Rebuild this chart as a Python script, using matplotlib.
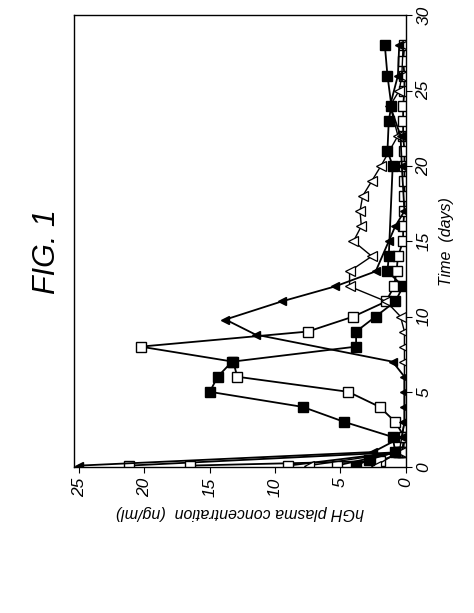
import matplotlib
matplotlib.use("Agg")
import matplotlib.pyplot as plt

# Series (time in days, hGH conc in ng/ml)
t_tri_f = [0.1, 1, 2, 3, 4, 5, 6, 7, 8.8, 9.8, 11, 12, 13, 15, 16, 17, 20, 22, 24, 26, 28]
c_tri_f = [25, 2.5, 0.3, 0.1, 0.1, 0.1, 0.1, 1.0, 11.5, 13.8, 9.5, 5.4, 2.3, 1.3, 0.8, 0.1, 0.3, 0.4, 1.2, 0.6, 0.5]

t_sq_f = [0.1, 0.5, 1, 2, 3, 4, 5, 6, 7, 8, 9, 10, 11, 12, 13, 14, 20, 21, 23, 24, 26, 28]
c_sq_f = [3.8, 2.8, 0.8, 1.0, 4.7, 7.9, 15.0, 14.4, 13.3, 3.8, 3.8, 2.3, 0.8, 0.2, 1.4, 1.3, 1.0, 1.4, 1.3, 1.1, 1.4, 1.6]

t_sq_o = [0.1, 1, 2, 3, 4, 5, 6, 7, 8, 9, 10, 11, 12, 13, 14, 15, 16, 17, 18, 19, 20, 21, 22, 23, 24, 25, 26, 27, 28]
c_sq_o = [21.2, 0.3, 0.1, 0.8, 2.0, 4.4, 12.9, 13.2, 20.3, 7.5, 4.0, 1.5, 0.9, 0.7, 0.6, 0.2, 0.2, 0.1, 0.1, 0.1, 0.1, 0.1, 0.2, 0.2, 0.2, 0.1, 0.1, 0.2, 0.1]

t_sq_o2 = [0.1, 0.4, 1, 2]
c_sq_o2 = [16.5, 2.0, 0.2, 0.1]
t_sq_o3 = [0.1, 1]
c_sq_o3 = [9.0, 0.5]
t_sq_o4 = [0.1, 1]
c_sq_o4 = [5.3, 0.6]

t_tri_o = [0.1, 1, 3, 7, 8, 9, 10, 11, 12, 13, 14, 15, 16, 17, 18, 19, 20, 22, 24, 25, 26, 28]
c_tri_o = [2.3, 0.5, 0.1, 0.1, 0.1, 0.1, 0.4, 1.5, 4.3, 4.3, 2.6, 4.0, 3.4, 3.5, 3.3, 2.6, 1.9, 0.6, 1.2, 0.5, 0.3, 0.2]
t_tri_o2 = [0.1, 1]
c_tri_o2 = [7.4, 0.4]

conc_ticks = [0, 5, 10, 15, 20, 25]
time_ticks = [0, 5, 10, 15, 20, 25, 30]

plt.rcParams['font.family'] = ['Liberation Sans', 'DejaVu Sans']
fig = plt.figure(figsize=(4.74, 6.13), dpi=100)
ax = fig.add_axes([0.156, 0.238, 0.700, 0.737])

kw = dict(color='black', lw=1.3, markeredgecolor='black', markeredgewidth=1.0)
ax.plot(c_sq_o, t_sq_o, marker='s', ms=6.5, mfc='white', **kw)
ax.plot(c_sq_o2, t_sq_o2, marker='s', ms=6.5, mfc='white', **kw)
ax.plot(c_sq_o3, t_sq_o3, marker='s', ms=6.5, mfc='white', **kw)
ax.plot(c_sq_o4, t_sq_o4, marker='s', ms=6.5, mfc='white', **kw)
ax.plot(c_tri_o, t_tri_o, marker='<', ms=6.5, mfc='white', lw=1.0, color='black', markeredgecolor='black', markeredgewidth=0.9)
ax.plot(c_tri_o2, t_tri_o2, marker='<', ms=6.5, mfc='white', lw=1.0, color='black', markeredgecolor='black', markeredgewidth=0.9)
ax.plot(c_sq_f, t_sq_f, marker='s', ms=6.5, mfc='black', **kw)
ax.plot(c_tri_f, t_tri_f, marker='<', ms=5.5, mfc='black', **kw)

ax.set_xlim(25.4, 0)
ax.set_ylim(0, 30)
ax.set_xticks(conc_ticks)
ax.set_yticks(time_ticks)
ax.yaxis.tick_right()
ax.yaxis.set_label_position('right')
ax.tick_params(axis='both', labelsize=12.5, length=4, direction='out')
for lab in ax.get_xticklabels():
    lab.set_rotation(90); lab.set_fontstyle('italic')
for lab in ax.get_yticklabels():
    lab.set_rotation(90); lab.set_fontstyle('italic'); lab.set_va('center')
for s in ax.spines.values():
    s.set_linewidth(1.0)

ax.set_xlabel('hGH plasma concentration  (ng/ml)', rotation=180, fontsize=11.5,
              fontstyle='italic', labelpad=6)
ax.set_ylabel('Time  (days)', rotation=90, fontsize=11.5, fontstyle='italic', labelpad=6)
fig.text(0.10, 0.59, 'FIG. 1', rotation=90, fontsize=22, fontstyle='italic',
         ha='center', va='center')

fig.savefig('out.png', dpi=100)
